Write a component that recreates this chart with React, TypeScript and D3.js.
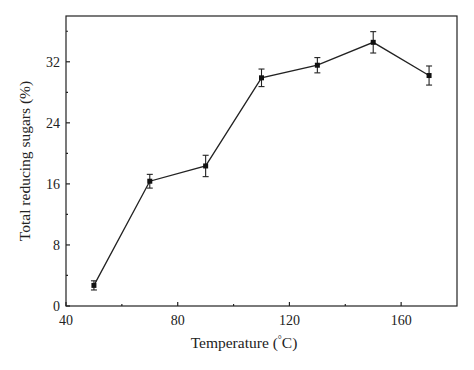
import React from "react";
import * as d3 from "d3";

const temperatures = [50, 70, 90, 110, 130, 150, 170];
const sugars = [2.7, 16.35, 18.35, 29.9, 31.55, 34.55, 30.2];
const errors = [0.6, 0.9, 1.4, 1.15, 1.0, 1.4, 1.25];
const xTicks = [40, 80, 120, 160];
const xMinor = [60, 100, 140];
const yTicks = [0, 8, 16, 24, 32];
const yMinor = [4, 12, 20, 28, 36];

export default function App() {
  const W = 474, H = 370;
  const left = 66, right = 457, top = 16, bottom = 306;
  const x = d3.scaleLinear().domain([40, 180]).range([left, right]);
  const y = d3.scaleLinear().domain([0, 38]).range([bottom, top]);
  const data = temperatures.map((t, i) => ({ t, v: sugars[i], e: errors[i] }));
  const line = d3.line<any>().x(d => x(d.t)).y(d => y(d.v));
  const stroke = "#222";
  const font = "'Liberation Serif', 'DejaVu Serif', serif";
  return (
    <svg width={W} height={H} style={{ position: "absolute", left: 0, top: 0, background: "#fff" }}>
      <rect x={left} y={top} width={right - left} height={bottom - top} fill="none" stroke={stroke} strokeWidth={1.2} />
      {xTicks.map(t => (
        <g key={"xt" + t}>
          <line x1={x(t)} x2={x(t)} y1={bottom} y2={bottom - 4} stroke={stroke} strokeWidth={1.2} />
          <text x={x(t)} y={325} textAnchor="middle" fontFamily={font} fontSize={14} fill="#222">{t}</text>
        </g>
      ))}
      {xMinor.map(t => (
        <line key={"xm" + t} x1={x(t)} x2={x(t)} y1={bottom} y2={bottom - 2} stroke={stroke} strokeWidth={1.2} />
      ))}
      {yTicks.map(t => (
        <g key={"yt" + t}>
          <line x1={left} x2={left + 4} y1={y(t)} y2={y(t)} stroke={stroke} strokeWidth={1.2} />
          <text x={60} y={y(t) + 5} textAnchor="end" fontFamily={font} fontSize={14} fill="#222">{t}</text>
        </g>
      ))}
      {yMinor.map(t => (
        <line key={"ym" + t} x1={left} x2={left + 2} y1={y(t)} y2={y(t)} stroke={stroke} strokeWidth={1.2} />
      ))}
      <path d={line(data) || ""} fill="none" stroke={stroke} strokeWidth={1.3} />
      {data.map(d => (
        <g key={"p" + d.t}>
          <line x1={x(d.t)} x2={x(d.t)} y1={y(d.v - d.e)} y2={y(d.v + d.e)} stroke={stroke} strokeWidth={1.1} />
          <line x1={x(d.t) - 3} x2={x(d.t) + 3} y1={y(d.v - d.e)} y2={y(d.v - d.e)} stroke={stroke} strokeWidth={1.1} />
          <line x1={x(d.t) - 3} x2={x(d.t) + 3} y1={y(d.v + d.e)} y2={y(d.v + d.e)} stroke={stroke} strokeWidth={1.1} />
          <rect x={x(d.t) - 2.5} y={y(d.v) - 2.5} width={5} height={5} fill="#111" />
        </g>
      ))}
      <text x={244} y={348} textAnchor="middle" fontFamily={font} fontSize={15.5} fill="#222">Temperature (<tspan fontSize={10} dy={-5}>°</tspan><tspan dy={5}>C)</tspan></text>
      <text transform={`translate(30,${(top + bottom) / 2}) rotate(-90)`} textAnchor="middle" fontFamily={font} fontSize={15.5} fill="#222">Total reducing sugars (%)</text>
    </svg>
  );
}
